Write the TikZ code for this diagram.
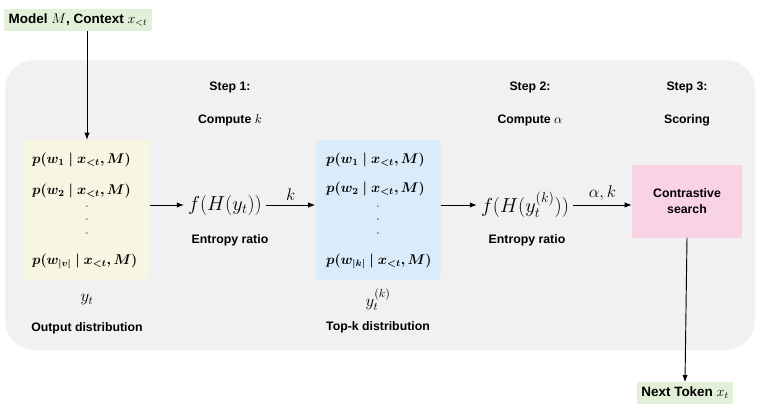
\documentclass[tikz,border=0pt]{standalone}
\usepackage{amsmath,bm}
\usepackage{fontspec}
\setmainfont{Liberation Sans}
\usetikzlibrary{arrows.meta,positioning}
\definecolor{bggray}{RGB}{241,241,241}
\definecolor{boxgreen}{RGB}{226,240,217}
\definecolor{boxyellow}{RGB}{248,246,226}
\definecolor{boxblue}{RGB}{218,236,250}
\definecolor{boxpink}{RGB}{250,210,230}

\begin{document}
\begin{tikzpicture}[x=0.03cm, y=-0.03cm,
    every node/.style={font=\fontsize{10.5}{13}\selectfont\bfseries},
    greenbox/.style={fill=boxgreen, inner sep=4pt},
    prob/.style={anchor=west, font=\fontsize{12}{14}\selectfont},
    arr/.style={-{Latex[length=6pt]}, thick}
]
    \useasboundingbox (0,0) rectangle (762,419);
    %background
    \node (panel) [fill=bggray, rounded corners=25pt, minimum width=750*0.03cm, minimum height=290*0.03cm] at (380,205) {};

    %inputs and outputs
    \node (model) [greenbox, font=\fontsize{11.5}{13}\selectfont\bfseries] at (78,20) {Model $M$, Context $x_{<t}$};
    \node (next) [greenbox, font=\fontsize{11.5}{13}\selectfont\bfseries] at (685,393) {Next Token $x_t$};

    %distributions
    \node (outdist) [fill=boxyellow, rounded corners=3pt, minimum width=125*0.03cm, minimum height=140*0.03cm] at (87,210) {};
    \node [prob] at (28,160) {$\bm{p(w_1\mid x_{<t},M)}$};
    \node [prob] at (28,191) {$\bm{p(w_2\mid x_{<t},M)}$};
    \node [prob] at (28,261) {$\bm{p(w_{|v|}\mid x_{<t},M)}$};
    \foreach \yy in {207,220,234} \node [font=\normalsize] at (87,\yy) {$\cdot$};
    \node (topdist) [fill=boxblue, rounded corners=3pt, minimum width=125*0.03cm, minimum height=140*0.03cm] at (378,210) {};
    \node [prob] at (322,160) {$\bm{p(w_1\mid x_{<t},M)}$};
    \node [prob] at (322,189) {$\bm{p(w_2\mid x_{<t},M)}$};
    \node [prob] at (322,261) {$\bm{p(w_{|k|}\mid x_{<t},M)}$};
    \foreach \yy in {207,220,234} \node [font=\normalsize] at (378,\yy) {$\cdot$};
    \node (search) [fill=boxpink, minimum width=110*0.03cm, minimum height=73*0.03cm, align=center] at (687,201) {Contrastive\\search};

    %labels
    \node at (87,300) {\Large $y_t$};
    \node at (87,328) {Output distribution};
    \node at (378,300) {\Large $y_t^{(k)}$};
    \node at (378,327) {Top-k distribution};
    \node at (230,87) {Step 1:};
    \node at (230,120) {Compute $k$};
    \node at (530,87) {Step 2:};
    \node at (530,120) {Compute $\alpha$};
    \node at (687,87) {Step 3:};
    \node at (687,120) {Scoring};

    %entropy
    \node (ent1) [font=\LARGE\mdseries] at (225,205) {$f(H(y_t))$};
    \node at (230,240) {Entropy ratio};
    \node (ent2) [font=\LARGE\mdseries] at (525,205) {$f(H(y_t^{(k)}))$};
    \node at (527,240) {Entropy ratio};

    %arrows
    \draw[arr] (model.south -| outdist.north) -- (outdist.north);
    \draw[arr] (ent1.west -| outdist.east) -- (ent1.west);
    \draw[arr] (ent1.east) -- node[above, font=\Large\mdseries] {$k$} (ent1.east -| topdist.west);
    \draw[arr] (ent2.west -| topdist.east) -- (ent2.west);
    \draw[arr] (ent2.east) -- node[above, font=\Large\mdseries] {$\alpha,k$} (ent2.east -| search.west);
    \draw[arr] (search.south) -- (next.north);
\end{tikzpicture}
\end{document}
